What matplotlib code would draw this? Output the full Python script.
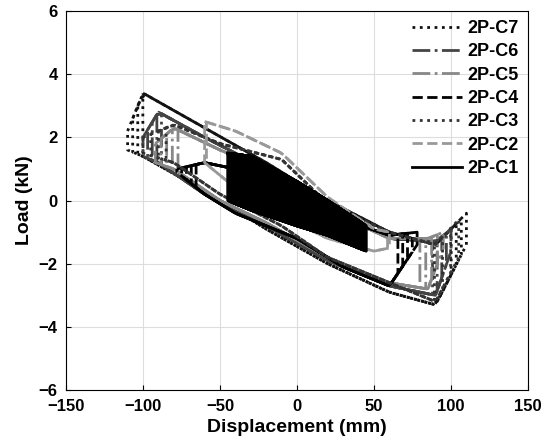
import numpy as np
import matplotlib.pyplot as plt

plt.rcParams['font.family'] = ['Liberation Sans', 'DejaVu Sans']
plt.rcParams['font.weight'] = 'bold'

labels = ["2P-C7", "2P-C6", "2P-C5", "2P-C4", "2P-C3", "2P-C2", "2P-C1"]
colors = ["#111111", "#444444", "#888888", "#000000", "#333333", "#999999", "#000000"]
styles = [":", "-.", "-.", "--", ":", "--", "-"]

# outer loop outline per series: x points, upper branch, lower branch
env_x = [
    [-110, -100, -60, -20, 20, 60, 90, 110],
    [-100, -90, -60, -20, 20, 60, 90, 100],
    [-92, -80, -50, -20, 20, 60, 85, 95],
    [-78, -60, -40, 0, 30, 60, 78],
    [-100, -80, -50, -10, 20, 60, 90, 105],
    [-60, -40, -10, 20, 50, 60],
    [-45, -30, 0, 20, 45],
]
env_up = [
    [2.2, 3.4, 2.3, 1.2, 0.0, -1.0, -1.4, -0.4],
    [2.0, 2.8, 2.0, 1.0, -0.2, -1.2, -1.3, -0.9],
    [1.8, 2.3, 1.6, 1.0, -0.3, -1.2, -1.2, -1.0],
    [1.0, 1.2, 1.0, 0.2, -0.6, -1.1, -1.0],
    [2.0, 2.4, 1.8, 1.3, -0.1, -1.0, -1.4, -0.6],
    [2.5, 2.2, 1.5, 0.1, -0.9, -1.0],
    [1.5, 1.4, 0.6, 0.0, -0.8],
]
env_lo = [
    [1.6, 1.4, 0.3, -0.9, -2.0, -2.9, -3.3, -1.4],
    [1.4, 1.2, 0.2, -0.8, -1.9, -2.7, -3.0, -1.6],
    [1.2, 1.0, 0.0, -0.7, -1.8, -2.6, -2.8, -1.5],
    [0.9, 0.2, -0.4, -1.2, -2.1, -2.7, -1.4],
    [1.5, 1.2, 0.2, -0.8, -1.8, -2.6, -3.2, -1.8],
    [1.2, 0.4, -0.5, -1.2, -1.6, -1.5],
    [0.0, -0.3, -0.8, -1.1, -1.6],
]
# cycle amplitudes as fraction of outer loop
cycles = [
    [1.0, 0.97, 0.94, 0.91],
    [1.0, 0.97, 0.94, 0.91, 0.88],
    [1.0, 0.96, 0.92, 0.88, 0.84],
    [1.0, 0.96, 0.92, 0.88, 0.84],
    [1.0, 0.95, 0.9, 0.85],
    [1.0, 0.98],
    [1.0, 0.99, 0.98, 0.97, 0.96, 0.95, 0.94, 0.93, 0.92, 0.91, 0.9],
]

fig, ax = plt.subplots(figsize=(5.5, 4.36), dpi=100)
ax.set_axisbelow(True)
for i in range(len(labels)):
    xs = np.array(env_x[i], float)
    for k, f in enumerate(cycles[i]):
        xx = np.linspace(xs[0] * f, xs[-1] * f, 60)
        up = np.interp(xx, xs, env_up[i])
        lo = np.interp(xx, xs, env_lo[i])
        px = np.concatenate([xx, xx[::-1], xx[:1]])
        py = np.concatenate([up, lo[::-1], up[:1]])
        if i == 6:
            ax.fill(px, py, color="black", lw=0, zorder=3)
        ax.plot(px, py, ls=styles[i], color=colors[i], lw=2.0, zorder=3,
                label=labels[i] if k == 0 else None)

ax.set_xlim(-150, 150)
ax.set_ylim(-6, 6)
ax.set_xticks(range(-150, 151, 50))
ax.set_yticks(range(-6, 7, 2))
ax.grid(True, color="#dddddd", lw=0.8)
ax.set_xlabel("Displacement (mm)", fontsize=14, fontweight="bold")
ax.set_ylabel("Load (kN)", fontsize=14, fontweight="bold")
ax.tick_params(labelsize=12, direction="in", pad=6)
leg = ax.legend(loc="upper right", frameon=False, fontsize=13, handlelength=2.8,
                borderaxespad=0.1, labelspacing=0.35, handletextpad=0.3)
fig.subplots_adjust(left=0.12, right=0.96, top=0.975, bottom=0.105)
fig.savefig("out.png")
